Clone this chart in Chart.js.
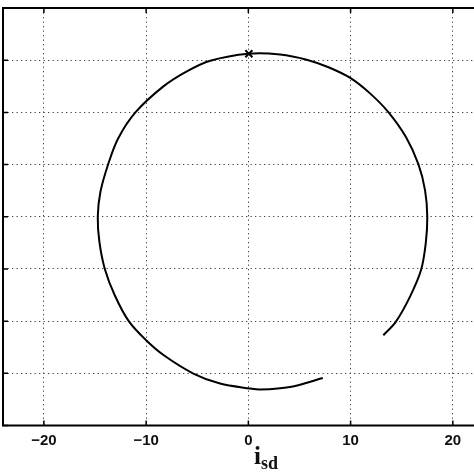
<!DOCTYPE html>
<html lang="en">
<head>
    <meta charset="UTF-8">
    <title>isd trajectory</title>
    <script src="https://cdn.jsdelivr.net/npm/chart.js"></script>
    <style>
        html, body { margin: 0; padding: 0; background: #fff; overflow: hidden; }
        .quadro { position: relative; width: 474px; height: 474px; }
        #xtitulo {
            position: absolute; left: 254px; top: 443px;
            font-family: "Liberation Serif", serif; font-weight: bold; color: #111;
            line-height: 1;
        }
        #xtitulo .i { font-size: 25px; }
        #xtitulo sub { font-size: 18px; vertical-align: -5px; }
    </style>
</head>
<body>
<div class="quadro">
    <canvas id="grafico" width="474" height="474"></canvas>
    <div id="xtitulo"><span class="i">i</span><sub>sd</sub></div>
</div>
<script>
    // trajetoria (de uma ponta da abertura ate a outra)
    const isd = [13.2, 14.4, 15.8, 16.89, 17.35, 17.5, 17.28, 16.63, 15.4, 13.69, 11.90, 10.04,
        7.9, 5.71, 3.1, 0.0, -3.73, -6.02, -8.31, -11.05, -12.74, -13.72, -14.47, -14.73,
        -14.57, -14.04, -13.07, -11.7, -10.0, -8.27, -5.38, -2.77, 0.17, 1.14, 4.08, 7.28];
    const isq = [-11.35, -10.1, -7.68, -5.11, -2.56, 0.0, 2.55, 5.04, 7.66, 10.03, 11.82, 13.26,
        14.3, 15.05, 15.55, 15.62, 14.95, 13.93, 12.49, 10.0, 7.5, 5.01, 2.39, 0.0,
        -2.41, -5.0, -7.52, -10.0, -11.83, -13.27, -15.02, -15.98, -16.46, -16.56, -16.31, -15.45];

    // ponto inicial (marcado com x)
    const inicioX = [0.05];
    const inicioY = [15.62];

    const xTicks = [-20, -10, 0, 10, 20];
    const yTicks = [-20, -15, -10, -5, 0, 5, 10, 15, 20];

    const moldura = {
        id: 'moldura',
        afterDraw(chart) {
            const { ctx, chartArea: a, scales } = chart;
            ctx.save();
            ctx.strokeStyle = '#000';
            ctx.lineWidth = 2;
            ctx.beginPath();
            ctx.moveTo(a.right + 2, a.top);
            ctx.lineTo(a.left, a.top);
            ctx.lineTo(a.left, a.bottom);
            ctx.lineTo(a.right + 2, a.bottom);
            ctx.stroke();
            ctx.lineWidth = 1.5;
            ctx.beginPath();
            xTicks.forEach(v => {
                const p = scales.x.getPixelForValue(v);
                ctx.moveTo(p, a.top); ctx.lineTo(p, a.top + 5);
                ctx.moveTo(p, a.bottom); ctx.lineTo(p, a.bottom - 5);
            });
            yTicks.forEach(v => {
                const p = scales.y.getPixelForValue(v);
                ctx.moveTo(a.left, p); ctx.lineTo(a.left + 5, p);
            });
            ctx.stroke();
            ctx.restore();
        }
    };

    const pts = isd.map((x, i) => ({ x: x, y: isq[i] }));
    const inicio = inicioX.map((x, i) => ({ x: x, y: inicioY[i] }));

    new Chart(document.getElementById('grafico'), {
        type: 'scatter',
        data: {
            datasets: [
                {
                    data: pts,
                    showLine: true,
                    borderColor: '#000',
                    borderWidth: 2,
                    pointRadius: 0,
                    tension: 0.33
                },
                {
                    data: inicio,
                    pointStyle: 'crossRot',
                    pointRadius: 5,
                    borderColor: '#000',
                    borderWidth: 2
                }
            ]
        },
        options: {
            responsive: false,
            animation: false,
            layout: { autoPadding: false, padding: { top: 8, left: 0, right: 0, bottom: 0 } },
            plugins: { legend: { display: false }, tooltip: { enabled: false } },
            scales: {
                x: {
                    type: 'linear',
                    min: -24,
                    max: 22.07,
                    afterBuildTicks: s => { s.ticks = xTicks.map(v => ({ value: v })); },
                    afterFit: s => { s.height = 48.5; s.paddingLeft = 0; s.paddingRight = 0; },
                    grid: { color: '#444', lineWidth: 1, drawTicks: false },
                    border: { display: false, dash: [1.3, 3.2] },
                    ticks: {
                        padding: 6,
                        color: '#111',
                        font: { family: 'Liberation Sans', size: 15, weight: 'bold' },
                        callback: v => String(v).replace('-', '\u2212')
                    }
                },
                y: {
                    type: 'linear',
                    min: -20,
                    max: 20,
                    afterBuildTicks: s => { s.ticks = yTicks.map(v => ({ value: v })); },
                    afterFit: s => { s.width = 3; s.paddingTop = 0; s.paddingBottom = 0; },
                    grid: { color: '#444', lineWidth: 1, drawTicks: false },
                    border: { display: false, dash: [1.3, 3.2] },
                    ticks: { display: false }
                }
            }
        },
        plugins: [moldura]
    });
</script>
</body>
</html>
